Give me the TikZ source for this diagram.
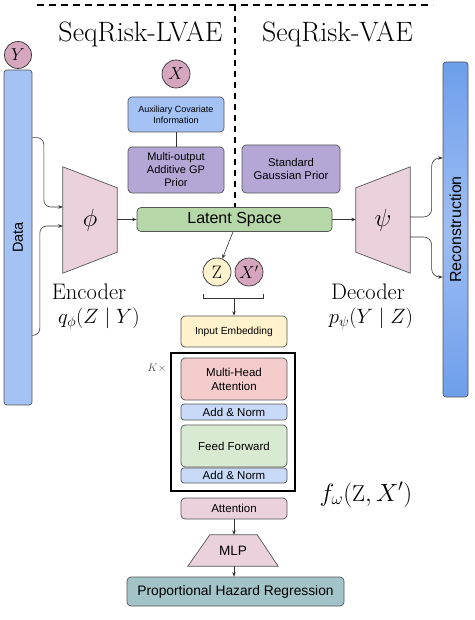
\documentclass[tikz,border=0pt]{standalone}
\usepackage{fontspec}
\newfontfamily\arialf{Liberation Sans}
\usetikzlibrary{arrows.meta,calc}
\definecolor{bordc}{HTML}{555555}
\definecolor{cblue}{HTML}{A4C2F4}
\definecolor{cdblue}{HTML}{6D9EEB}
\definecolor{cpurple}{HTML}{B4A7D6}
\definecolor{cgreen}{HTML}{B6D7A8}
\definecolor{cpink}{HTML}{EAD1DC}
\definecolor{cmag}{HTML}{D5A6BD}
\definecolor{cyellow}{HTML}{FFF2CC}
\definecolor{cred}{HTML}{F4CCCC}
\definecolor{clblue}{HTML}{C9DAF8}
\definecolor{clgreen}{HTML}{D9EAD3}
\definecolor{cteal}{HTML}{A2C4C9}
\newcommand{\fsz}[1]{\fontsize{#1}{#1}\selectfont}
\begin{document}
\begin{tikzpicture}[x=1pt,y=-1pt,
  box/.style={draw=bordc, line width=0.7pt, rounded corners=4pt, align=center, inner sep=0pt},
  circ/.style={circle, draw=black!80, line width=0.7pt, minimum size=28pt, inner sep=0pt},
  conn/.style={line width=0.6pt, draw=black!80},
  arr/.style={conn, -{Stealth[length=4.5pt,width=3.5pt]}},
  trap/.style={draw=bordc, line width=0.7pt, fill=cpink},
  ghost/.style={inner sep=0pt, draw=none},
  ]
\useasboundingbox (0,0) rectangle (474,620);

% dashed separators
\coordinate (dl) at (37,5);
\coordinate (dr) at (433,5);
\coordinate (dm) at (235,5);
\draw[line width=1.4pt, dash pattern=on 7pt off 5pt] (dl) -- (dr);

% titles
\node[anchor=base, font=\fsz{28}] (tl) at (140.5,42) {SeqRisk-LVAE};
\node[anchor=base, font=\fsz{28}] (tr) at (337.5,42) {SeqRisk-VAE};

% data bar
\node[box, rounded corners=3pt, fill=cblue, minimum width=28pt, minimum height=335pt,
  label={[rotate=90, font=\arialf\fsz{14.5}]center:Data}] (data) at (18,237.5) {};
\node[circ, minimum size=27pt, fill=cmag, font=\fsz{18}] (Y) at (18,55) {$Y$};

% reconstruction bar
\node[box, rounded corners=3pt, top color=cdblue, bottom color=cdblue, middle color=cblue!90!cdblue,
  minimum width=25pt, minimum height=335pt,
  label={[rotate=90, font=\arialf\fsz{16}]center:Reconstruction}] (rec) at (455.5,229.5) {};

% LVAE prior branch
\node[circ, fill=cmag, font=\fsz{19}] (X) at (176,74) {$X$};
\node[box, fill=cblue, minimum width=96pt, minimum height=35pt, font=\arialf\fontsize{9}{11}\selectfont] (aux) at (176,114.5) {Auxiliary Covariate\\Information};
\node[box, fill=cpurple, minimum width=96pt, minimum height=46pt, font=\arialf\fontsize{11}{13}\selectfont] (multi) at (176,170) {Multi-output\\Additive GP\\Prior};
\draw[conn] (aux) -- (multi);

\node[box, fill=cpurple, minimum width=98pt, minimum height=48pt, font=\arialf\fontsize{11.3}{13}\selectfont] (sgp) at (291,169) {Standard\\Gaussian Prior};

% latent space
\node[box, fill=cgreen, minimum width=195pt, minimum height=24pt, font=\arialf\fsz{16}] (latent) at (234.5,219.5) {Latent Space};
\draw[line width=1.3pt, dash pattern=on 6pt off 5pt] (dm) -- (dm |- latent.north);

% encoder
\node[ghost, minimum width=54pt, minimum height=106pt] (enc) at (90,220) {};
\draw[trap] (enc.north west) -- ($(enc.north east)+(0,21)$) -- ($(enc.south east)+(0,-21)$) -- (enc.south west) -- cycle;
\node[font=\fsz{27}] (phi) at (enc.center) {$\phi$};

% decoder
\node[ghost, minimum width=54pt, minimum height=106pt] (dec) at (383,220) {};
\draw[trap] ($(dec.north west)+(0,21)$) -- (dec.north east) -- (dec.south east) -- ($(dec.south west)+(0,-21)$) -- cycle;
\node[font=\fsz{27}] (psi) at (dec.center) {$\psi$};

\draw[arr] (enc.east |- latent.west) -- (latent.west);
\draw[arr] (latent.east) -- (dec.west |- latent.east);

% data -> encoder
\coordinate (encin1) at ($(enc.west)+(0,-13)$);
\coordinate (encin2) at ($(enc.west)+(0,6)$);
\draw[arr, rounded corners=7pt] ($(data.north east)+(0,68)$) -| ($(encin1)+(-19,0)$) -- (encin1);
\draw[arr, rounded corners=7pt] ($(data.south east)+(0,-70)$) -| ($(encin2)+(-23,0)$) -- (encin2);

% decoder -> reconstruction
\coordinate (recin1) at ($(rec.west)+(0,-71.5)$);
\coordinate (recin2) at ($(rec.west)+(0,47.5)$);
\draw[arr, rounded corners=8pt] ($(dec.east)+(0,-3)$) -| ($(recin1)+(-11,0)$) -- (recin1);
\draw[arr, rounded corners=8pt] ($(dec.east)+(0,17)$) -| ($(recin2)+(-11,0)$) -- (recin2);

% encoder / decoder labels
\node[anchor=base, font=\fsz{22.5}] (enct) at (89,299) {Encoder};
\node[anchor=base, font=\fsz{22.5}] (encq) at (99,323) {$q_\phi(Z\mid Y)$};
\node[anchor=base, font=\fsz{22.5}] (dect) at (368,299) {Decoder};
\node[anchor=base, font=\fsz{22.5}] (decp) at (371,323) {$p_\psi(Y\mid Z)$};

% Z, X'
\node[circ, fill=cyellow, font=\fsz{18}] (Z) at (217,272) {$\mathrm{Z}$};
\node[circ, fill=cmag, font=\fsz{18}] (Xp) at (249,272) {$X'$};
\draw[arr] ($(latent.south)+(-1.5,0)$) -- (Z);
\coordinate (brL) at (203,298);
\coordinate (brR) at (263,298);
\coordinate (brM) at (234,298);
\draw[conn] ($(brL)+(0,-4)$) -- (brL) -- (brR) -- ($(brR)+(0,-4)$);

% transformer
\node[box, fill=cyellow, minimum width=106pt, minimum height=31pt, font=\arialf\fsz{10.3}] (inemb) at (234,331.5) {Input Embedding};
\draw[arr] (brM) -- (inemb.north);

\node[draw=black, line width=1.6pt, minimum width=124pt, minimum height=138pt, inner sep=0pt] (kbox) at (233,422) {};
\node[font=\fsz{10.5}, text=black!70] (kx) at (157,368) {$K\times$};

\node[box, fill=cred, minimum width=106pt, minimum height=42pt, font=\arialf\fontsize{11.5}{14}\selectfont] (mha) at (234,379) {Multi-Head\\Attention};
\node[box, fill=clblue, minimum width=106pt, minimum height=16pt, rounded corners=3pt, font=\arialf\fsz{11.5}] (an1) at (234,412) {Add \& Norm};
\node[box, fill=clgreen, minimum width=106pt, minimum height=42pt, font=\arialf\fsz{11.5}] (ff) at (234,446) {Feed Forward};
\node[box, fill=clblue, minimum width=106pt, minimum height=15pt, rounded corners=3pt, font=\arialf\fsz{11.5}] (an2) at (234,475.5) {Add \& Norm};

\node[anchor=base, font=\fsz{23}] (fw) at (366,501) {$f_\omega(\mathrm{Z},X')$};

\node[box, fill=cpink, minimum width=106pt, minimum height=21pt, font=\arialf\fsz{11.5}] (att) at (234,508.5) {Attention};

% MLP
\node[ghost, minimum width=90pt, minimum height=31pt] (mlp) at (233,550.5) {};
\draw[trap] ($(mlp.north west)+(22,0)$) -- ($(mlp.north east)+(-21,0)$) -- (mlp.south east) -- (mlp.south west) -- cycle;
\node[font=\arialf\fsz{13.6}] (mlpt) at (mlp.center) {MLP};
\draw[arr] (att.south) -- (att.south |- mlp.north);

\node[box, fill=cteal, minimum width=217pt, minimum height=29pt, font=\arialf\fsz{13.8}] (phr) at (235.5,591.5) {Proportional Hazard Regression};
\draw[arr] (mlp.south -| att.south) -- (att.south |- phr.north);
\end{tikzpicture}
\end{document}
